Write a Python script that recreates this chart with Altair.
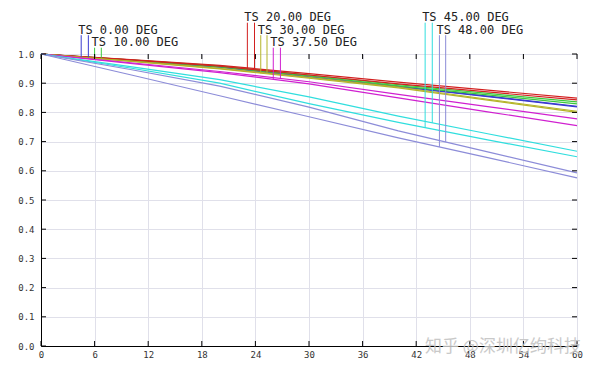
import altair as alt
import pandas as pd
import numpy as np

# spatial frequency (cycles/mm) sample points
freqs = [0, 10, 20, 30, 40, 50, 60]

fields = ["0.00", "10.00", "20.00", "30.00", "37.50", "45.00", "48.00"]
colors = ["#3a3ad0", "#3cc83c", "#d22020", "#b4b428", "#d020d0", "#30dede", "#8c8cd8"]

# modulus values (lower curve = T, upper curve = S) per field
mtf_T = {
    "0.00":  [1.0, 0.978, 0.955, 0.921, 0.888, 0.854, 0.819],
    "10.00": [1.0, 0.979, 0.956, 0.925, 0.891, 0.860, 0.829],
    "20.00": [1.0, 0.980, 0.958, 0.928, 0.898, 0.870, 0.843],
    "30.00": [1.0, 0.975, 0.949, 0.917, 0.884, 0.842, 0.800],
    "37.50": [1.0, 0.968, 0.936, 0.898, 0.850, 0.802, 0.755],
    "45.00": [1.0, 0.952, 0.900, 0.830, 0.766, 0.706, 0.648],
    "48.00": [1.0, 0.929, 0.857, 0.785, 0.713, 0.645, 0.576],
}
mtf_S = {
    "0.00":  [1.0, 0.978, 0.956, 0.922, 0.889, 0.856, 0.821],
    "10.00": [1.0, 0.980, 0.959, 0.928, 0.895, 0.865, 0.836],
    "20.00": [1.0, 0.981, 0.961, 0.933, 0.904, 0.876, 0.849],
    "30.00": [1.0, 0.976, 0.951, 0.920, 0.887, 0.845, 0.804],
    "37.50": [1.0, 0.970, 0.940, 0.905, 0.862, 0.820, 0.778],
    "45.00": [1.0, 0.957, 0.912, 0.853, 0.787, 0.727, 0.667],
    "48.00": [1.0, 0.947, 0.890, 0.818, 0.737, 0.665, 0.593],
}

# frequencies where the label leader lines meet the curves
leader_T = [4.5, 6.0, 23.1, 24.6, 26.0, 43.0, 44.6]
leader_S = [5.3, 6.75, 23.9, 25.3, 26.8, 43.8, 45.3]
label_row = [1, 2, 0, 1, 2, 0, 1]

x_ticks = [0, 6, 12, 18, 24, 30, 36, 42, 48, 54, 60]
y_ticks = [0.0, 0.1, 0.2, 0.3, 0.4, 0.5, 0.6, 0.7, 0.8, 0.9, 1.0]

W, H = 536, 292
MONO = "DejaVu Sans Mono"

rows = []
for f in fields:
    for kind, src in (("T", mtf_T), ("S", mtf_S)):
        for fr, v in zip(freqs, src[f]):
            rows.append({"field": f, "kind": kind, "freq": fr, "mtf": v})
curves = pd.DataFrame(rows)

lead_rows = []
lab_rows = []
for i, f in enumerate(fields):
    top_px = 23.0 + 12.5 * label_row[i]          # page pixel row where the leader starts
    top_val = 1 + (54.3 - top_px) / H
    for kind, lf, src in (("T", leader_T[i], mtf_T), ("S", leader_S[i], mtf_S)):
        lead_rows.append({"field": f, "freq": lf,
                          "y": float(np.interp(lf, freqs, src[f])), "top": top_val})
    lab_rows.append({"field": f, "freq": leader_T[i], "top": top_val,
                     "text": f"TS {f} DEG"})
leaders = pd.DataFrame(lead_rows)
labels = pd.DataFrame(lab_rows)

xs = alt.Scale(domain=[0, 60], nice=False, zero=False)
ys = alt.Scale(domain=[0, 1], nice=False, zero=False)
cs = alt.Scale(domain=fields, range=colors)

x_axis = alt.Axis(values=x_ticks, title=None, ticks=False, grid=True, labelFont=MONO,
                  labelFontSize=9, labelColor="#333", labelPadding=4, labelOverlap=False,
                  domainColor="black", gridColor="#e0e0ea", labelFlush=False)
y_axis = alt.Axis(values=y_ticks, format=".1f", title=None, ticks=False, grid=True,
                  labelFont=MONO, labelFontSize=9, labelColor="#333", labelPadding=7,
                  labelOverlap=False, labelFlush=False, domainColor="black",
                  gridColor="#e0e0ea")

def X(field):
    return alt.X(field, type="quantitative", scale=xs, axis=x_axis)

def Y(field):
    return alt.Y(field, type="quantitative", scale=ys, axis=y_axis)

lines = alt.Chart(curves).mark_line(strokeWidth=1.2, clip=False).encode(
    x=X("freq"), y=Y("mtf"),
    color=alt.Color("field:N", scale=cs, legend=None),
    detail="kind:N",
    order="freq:Q",
)

lead = alt.Chart(leaders).mark_rule(strokeWidth=1, clip=False).encode(
    x=X("freq"), y=Y("y"), y2="top:Q",
    color=alt.Color("field:N", scale=cs, legend=None),
)

text = alt.Chart(labels).mark_text(align="left", baseline="alphabetic", dx=-3, dy=-1.5,
                                   font=MONO, fontSize=12, color="#222").encode(
    x=X("freq"), y=Y("top"), text="text:N",
)

xt = pd.DataFrame({"v": x_ticks})
yt = pd.DataFrame({"v": y_ticks})
tick_b = alt.Chart(xt).mark_rule(color="black").encode(
    x=X("v"), y=alt.value(H), y2=alt.value(H - 5))
tick_t = alt.Chart(xt).mark_rule(color="black").encode(
    x=X("v"), y=alt.value(0), y2=alt.value(5))
tick_l = alt.Chart(yt).mark_rule(color="black").encode(
    y=Y("v"), x=alt.value(0), x2=alt.value(5))
tick_r = alt.Chart(yt).mark_rule(color="black").encode(
    y=Y("v"), x=alt.value(W), x2=alt.value(W - 5))

watermark = alt.Chart(pd.DataFrame({"t": ["知乎 @深圳亿绚科技"]})).mark_text(
    font="Noto Sans CJK SC", fontSize=17, color="#c4c4c4", opacity=0.9,
    align="center", baseline="middle").encode(
    text="t:N", x=alt.value(462), y=alt.value(H + 1))

chart = alt.layer(lines, lead, text, tick_b, tick_t, tick_l, tick_r, watermark).properties(
    width=W, height=H,
    autosize=alt.AutoSizeParams(type="none"),
    padding={"left": 33, "top": 46, "right": 15, "bottom": 15},
).configure_view(stroke="black", strokeWidth=1).configure(background="white")

chart.save("out.html", embed_options={"renderer": "svg", "actions": False})
